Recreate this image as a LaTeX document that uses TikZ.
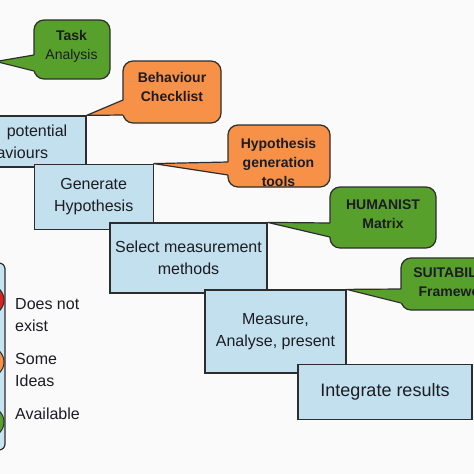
\documentclass[tikz,border=0pt]{standalone}
\usepackage{fontspec}
\setmainfont{Liberation Sans}
\definecolor{bg}{RGB}{250,250,250}
\definecolor{boxblue}{RGB}{195,224,238}
\definecolor{legblue}{RGB}{200,228,240}
\definecolor{cgreen}{RGB}{88,160,44}
\definecolor{corange}{RGB}{247,145,72}
\definecolor{lred}{RGB}{222,32,32}
\definecolor{edge}{RGB}{45,45,45}
\definecolor{txt}{RGB}{28,28,34}
\tikzset{
  stepbox/.style={draw=edge, line width=1.2pt, fill=boxblue, inner sep=0pt, align=center,
    text=txt, font=\fontsize{16}{22}\selectfont},
  callbox/.style={draw=edge, line width=1.2pt, rounded corners=10pt, inner sep=0pt},
  calltext/.style={align=center, text=txt, inner sep=0pt, font=\fontsize{14}{19}\selectfont\bfseries},
  callline/.style={draw=edge, line width=1.2pt, line join=round},
  legdot/.style={circle, draw=edge, line width=1pt, minimum size=30pt, inner sep=0pt},
  legtext/.style={align=left, anchor=west, text=txt, inner sep=0pt, font=\fontsize{16}{22}\selectfont}
}
\begin{document}
\begin{tikzpicture}[x=1pt,y=-1pt]
\useasboundingbox (0,0) rectangle (474,474);
\clip (0,0) rectangle (474,474);
\fill[bg] (0,0) rectangle (474,474);

% legend
\draw[draw=edge, fill=legblue, line width=1.2pt, rounded corners=6pt] (-60,263) rectangle (5,450);
\node[legdot, fill=lred] (dred) at (-11,300) {};
\node[legdot, fill=corange] (dorange) at (-11,362) {};
\node[legdot, fill=cgreen] (dgreen) at (-11,422) {};
\node[legtext] (tred) at (15,315) {Does not\\exist};
\node[legtext] (torange) at (15,370) {Some\\Ideas};
\node[legtext] (tgreen) at (15,414) {Available};

% process boxes
\node[stepbox, minimum width=154pt, minimum height=51pt] (b1) at (9,141.5) {\phantom{Identify }potential\\behaviours};
\node[stepbox, minimum width=119pt, minimum height=65pt] (b2) at (93.7,196.7) {Generate\\Hypothesis};
\node[stepbox, minimum width=157pt, minimum height=70pt] (b3) at (188.5,258) {Select measurement\\methods};
\node[stepbox, minimum width=141pt, minimum height=83pt] (b4) at (275.5,331.5) {Measure,\\Analyse, present};
\node[stepbox, minimum width=174pt, minimum height=55pt, font=\fontsize{18}{22}\selectfont] (b5) at (385,391.8) {Integrate results};

% callout: Task Analysis
\coordinate (b0ne) at (-4,61.5);
\node[callbox, fill=cgreen, minimum width=76pt, minimum height=59pt] (ta) at (72,49.5) {};
\fill[cgreen] (35.5,55) -- (b0ne) -- (35.5,71) -- cycle;
\draw[callline] (34,55) -- (b0ne) -- (34,71);
\node[calltext] (tat) at (71.5,46) {Task\\\mdseries Analysis};

% callout: Behaviour Checklist
\node[callbox, fill=corange, minimum width=98pt, minimum height=62pt] (bc) at (172,92) {};
\fill[corange] (124.5,100) -- (b1.north east) -- (124.5,115) -- cycle;
\draw[callline] (123,100) -- (b1.north east) -- (123,115);
\node[calltext] (bct) at (172,86.5) {Behaviour\\Checklist};

% callout: Hypothesis generation tools
\node[callbox, fill=corange, minimum width=102pt, minimum height=62pt] (hg) at (279,156) {};
\fill[corange] (229.5,162) -- (b2.north east) -- (229.5,175) -- cycle;
\draw[callline] (228,162) -- (b2.north east) -- (228,175);
\node[calltext] (hgt) at (278.5,162) {Hypothesis\\generation\\tools};

% callout: HUMANIST Matrix
\node[callbox, fill=cgreen, minimum width=106pt, minimum height=61pt] (hm) at (383,217.5) {};
\fill[cgreen] (331.5,223) -- (b3.north east) -- (331.5,237) -- cycle;
\draw[callline] (330,223) -- (b3.north east) -- (330,237);
\node[calltext] (hmt) at (383,214) {HUMANIST\\Matrix};

% callout: SUITABILITY Framework
\node[callbox, fill=cgreen, minimum width=110pt, minimum height=52pt] (sf) at (456,284) {};
\fill[cgreen] (402.5,289) -- (b4.north east) -- (402.5,303) -- cycle;
\draw[callline] (401,289) -- (b4.north east) -- (401,303);
\node[calltext] (sft) at (456,282) {SUITABILITY\\Framework};
\end{tikzpicture}
\end{document}
